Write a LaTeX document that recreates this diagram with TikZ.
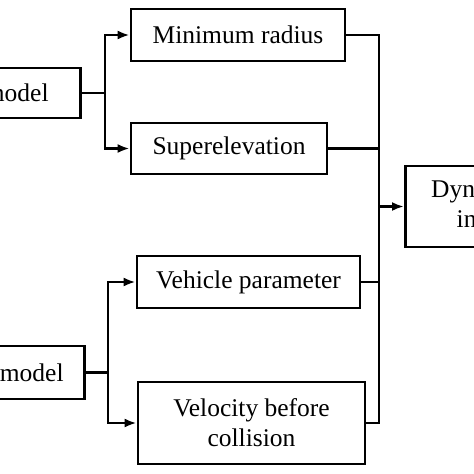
\documentclass[tikz,border=0pt]{standalone}
\usepackage{fontspec}
\setmainfont{Liberation Serif}
\usetikzlibrary{arrows.meta}

\begin{document}
\begin{tikzpicture}[x=1pt,y=-1pt,>={Latex[length=12pt,width=9pt]},
  box/.style={draw,line width=2.8pt,inner sep=0pt,align=center,font=\fontsize{25.5}{30}\selectfont},
  link/.style={line width=2.5pt}]
\path[use as bounding box,clip] (0,0) rectangle (474,474);

\node[box,anchor=east,inner xsep=32pt,minimum height=50pt](road) at (82,93) {model};
\node[box,anchor=east,inner xsep=21pt,minimum height=53pt](car) at (86,372.5) {model};

\node[box,minimum width=214pt,minimum height=52pt](rad) at (238,35) {Minimum radius};
\node[box,minimum width=196pt,minimum height=51pt](sup) at (229,148.5) {Superelevation};
\node[box,minimum width=223pt,minimum height=52pt](veh) at (248.5,282) {Vehicle parameter};
\node[box,minimum width=227pt,minimum height=82pt](vel) at (251.5,423) {Velocity before\\collision};

\node[box,anchor=west,minimum width=155pt,minimum height=81pt](dyn) at (404,206.5) {Dynamics\\input};

\coordinate (s1) at (105,93);
\coordinate (s2) at (108,372.5);
\coordinate (m) at (379,206.5);

\draw[link] (road.east) -- (s1);
\draw[link,->] (s1) |- (rad.west);
\draw[link,->] (s1) |- (sup.west);

\draw[link] (car.east) -- (s2);
\draw[link,->] (s2) |- (veh.west);
\draw[link,->] (s2) |- (vel.west);

\draw[link] (rad.east) -| (m);
\draw[link] (sup.east) -| (m);
\draw[link] (veh.east) -| (m);
\draw[link] (vel.east) -| (m);
\draw[link,->] (m) -- (dyn.west);
\end{tikzpicture}
\end{document}
